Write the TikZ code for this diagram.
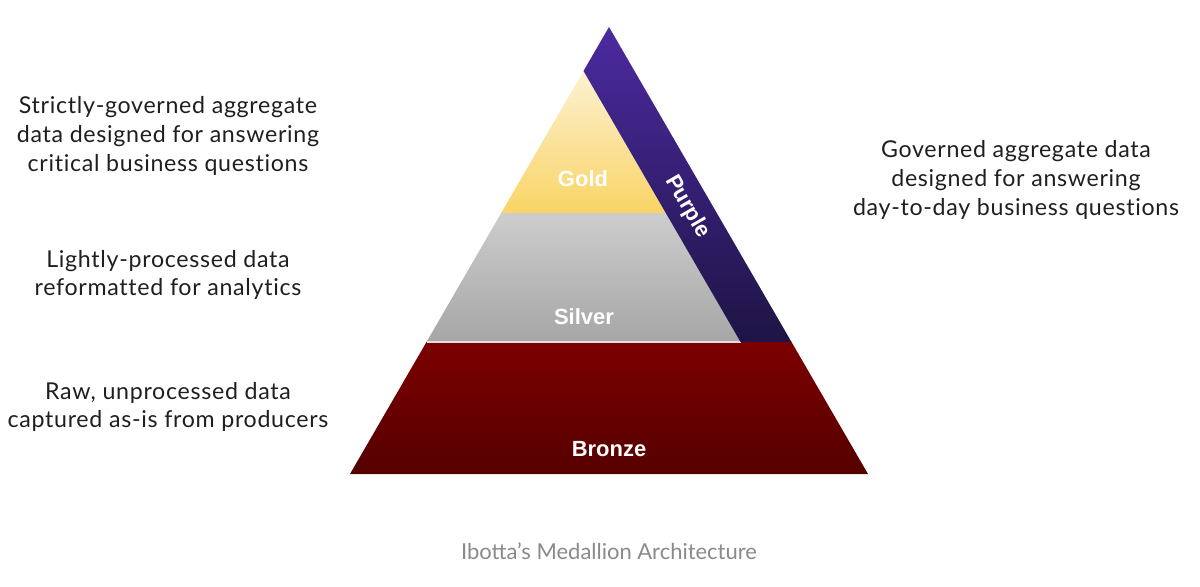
\documentclass[tikz,border=0pt]{standalone}
\usepackage{fontspec}
\setmainfont{Lato}
\newfontfamily\tierfont{Liberation Sans}
\definecolor{goldtop}{HTML}{FDF1D2}
\definecolor{goldbot}{HTML}{F9D465}
\definecolor{silvertop}{HTML}{CDCDCD}
\definecolor{silverbot}{HTML}{A6A6A6}
\definecolor{bronzetop}{HTML}{7C0000}
\definecolor{bronzebot}{HTML}{560000}
\definecolor{purpletop}{HTML}{4C2AA0}
\definecolor{purplebot}{HTML}{1E1445}
\definecolor{captiongray}{HTML}{8A8A8A}

\begin{document}
\begin{tikzpicture}[x=0.02cm,y=-0.02cm,
  desc/.style={align=center,font=\addfontfeature{LetterSpace=3,Ligatures=NoCommon}\fontsize{13.2}{16.4}\selectfont,text=black!88},
  tier/.style={text=white,font=\tierfont\bfseries\fontsize{12.5}{14}\selectfont}]
\useasboundingbox (0,0) rectangle (1200,587);
% corners
\coordinate (apex) at (609,27);
\coordinate (bl) at (350,474);
\coordinate (br) at (868,474);
\coordinate (bronzel) at (426.5,342);
\coordinate (bronzer) at (791.5,342);
\coordinate (silverr) at (740.5,342);
\coordinate (goldl) at (501.2,213);
\coordinate (goldr) at (665.8,213);
\coordinate (goldtip) at (583.5,71);
%
% bronze
\shade[top color=bronzetop,bottom color=bronzebot] (bl) -- (br) -- (bronzer) -- (bronzel) -- cycle;
% silver
\shade[top color=silvertop,bottom color=silverbot] (bronzel) -- (silverr) -- (goldr) -- (goldl) -- cycle;
\draw[white!75!gray,line width=0.6pt] (bronzel) -- (silverr);
% gold
\shade[top color=goldtop,bottom color=goldbot] (goldl) -- (goldr) -- (goldtip) -- cycle;
% purple
\shade[top color=purpletop,bottom color=purplebot] (apex) -- (bronzer) -- (silverr) -- (goldtip) -- cycle;
%
\node[tier] (gold) at (583,179) {Gold};
\node[tier] (silver) at (584,317) {Silver};
\node[tier] (bronze) at (609,449) {Bronze};
\node[tier,rotate=-60] (purple) at (687,207) {Purple};
%
\node[desc] (golddesc) at (168,136) {Strictly-governed aggregate\\data designed for answering\\critical business questions};
\node[desc] (silverdesc) at (168,275) {Lightly-processed data\\reformatted for analytics};
\node[desc] (bronzedesc) at (168,407) {Raw, unprocessed data\\captured as-is from producers};
\node[desc] (purpledesc) at (1016,180) {Governed aggregate data\\designed for answering\\day-to-day business questions};
%
\node[font=\fontsize{12.5}{14}\selectfont,text=captiongray] (caption) at (609,551) {Ibotta’s Medallion Architecture};
\end{tikzpicture}
\end{document}
